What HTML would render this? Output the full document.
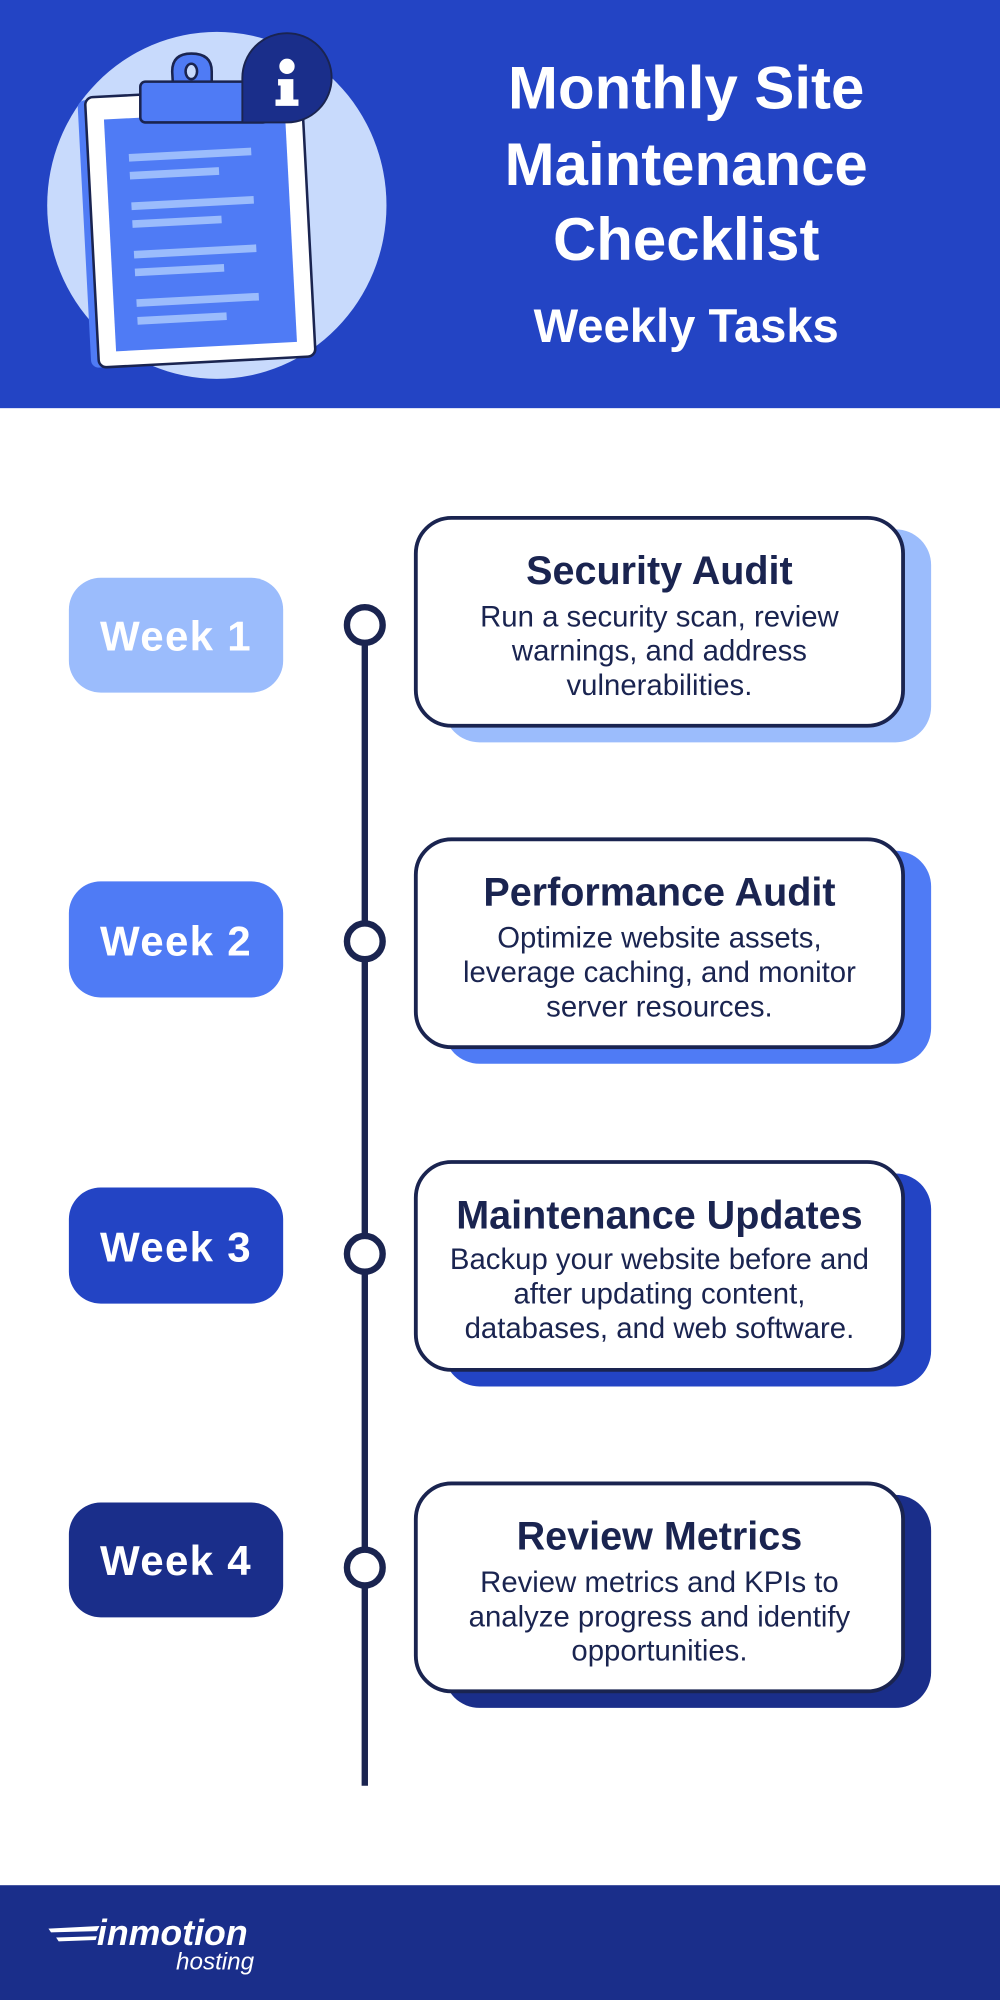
<!DOCTYPE html>
<html><head><meta charset="utf-8"><style>
html,body{margin:0;padding:0;background:#fff}
svg{display:block}
text{font-family:"Liberation Sans",sans-serif}
</style></head><body>
<svg width="1000" height="2000" viewBox="0 0 784 1568" xmlns="http://www.w3.org/2000/svg">
<rect x="0" y="0" width="784" height="320" fill="#2344c4"/>
<ellipse cx="170" cy="161" rx="133" ry="136" fill="#c8dafc"/>
<g transform="rotate(-3 155 178)">
<rect x="66" y="74" width="170" height="210" rx="6" fill="#4f7bf5"/>
<rect x="72" y="72" width="170" height="212" rx="6" fill="#fff" stroke="#1a2450" stroke-width="2"/>
<rect x="86" y="90" width="142" height="182" fill="#4f7bf5"/>
<g fill="#9bbcfc">
<rect x="104" y="118" width="96" height="6"/><rect x="104" y="132" width="70" height="6"/>
<rect x="104" y="156" width="96" height="6"/><rect x="104" y="170" width="70" height="6"/>
<rect x="104" y="194" width="96" height="6"/><rect x="104" y="208" width="70" height="6"/>
<rect x="104" y="232" width="96" height="6"/><rect x="104" y="246" width="70" height="6"/>
</g>
</g>
<path d="M136 74 L135 56 Q135 42 150 42 Q166 42 166 56 L166 74 Z" fill="#4f7bf5" stroke="#1a2450" stroke-width="2"/>
<ellipse cx="150" cy="56" rx="4.5" ry="6" fill="#c8dafc" stroke="#1a2450" stroke-width="2"/>
<rect x="110" y="64" width="100" height="32" rx="4" fill="#4f7bf5" stroke="#1a2450" stroke-width="2"/>
<path d="M190 96 V61 A35 35 0 1 1 225 96 Z" fill="#1a2e8a" stroke="#1a2450" stroke-width="1.5"/>
<circle cx="225" cy="52" r="6" fill="#fff"/>
<path d="M218 62 H230 V78 H234 V83 H216 V78 H220 V67 H218 Z" fill="#fff"/>
<g fill="#fff" font-weight="bold" text-anchor="middle" font-size="47">
<text x="538" y="85">Monthly Site</text>
<text x="538" y="145">Maintenance</text>
<text x="538" y="204">Checklist</text>
<text x="538" y="268" font-size="37">Weekly Tasks</text>
</g>
<line x1="286" y1="490" x2="286" y2="1400" stroke="#1a2450" stroke-width="5"/>
<g fill="#fff" stroke="#1a2450" stroke-width="5">
<circle cx="286" cy="490" r="14"/><circle cx="286" cy="738" r="14"/>
<circle cx="286" cy="983" r="14"/><circle cx="286" cy="1229" r="14"/>
</g>
<g font-weight="bold" font-size="33" fill="#fff" text-anchor="middle" letter-spacing="1">
<rect x="54" y="453" width="168" height="90" rx="25" fill="#9bbcfc"/><text x="138" y="510">Week 1</text>
<rect x="54" y="691" width="168" height="91" rx="25" fill="#4f7bf5"/><text x="138" y="749">Week 2</text>
<rect x="54" y="931" width="168" height="91" rx="25" fill="#2344c4"/><text x="138" y="989">Week 3</text>
<rect x="54" y="1178" width="168" height="90" rx="25" fill="#1a2e8a"/><text x="138" y="1235">Week 4</text>
</g>
<g>
<rect x="348" y="415" width="382" height="167" rx="28" fill="#9bbcfc"/>
<rect x="348" y="667" width="382" height="167" rx="28" fill="#4f7bf5"/>
<rect x="348" y="920" width="382" height="167" rx="28" fill="#2344c4"/>
<rect x="348" y="1172" width="382" height="167" rx="28" fill="#1a2e8a"/>
<g fill="#fff" stroke="#1a2450" stroke-width="3">
<rect x="326" y="406" width="382" height="163" rx="28"/>
<rect x="326" y="658" width="382" height="163" rx="28"/>
<rect x="326" y="911" width="382" height="163" rx="28"/>
<rect x="326" y="1163" width="382" height="163" rx="28"/>
</g>
</g>
<g fill="#1a2450" text-anchor="middle">
<g font-size="31" font-weight="bold">
<text x="517" y="458">Security Audit</text>
<text x="517" y="710">Performance Audit</text>
<text x="517" y="963">Maintenance Updates</text>
<text x="517" y="1215">Review Metrics</text>
</g>
<g font-size="23">
<text x="517" y="491">Run a security scan, review</text>
<text x="517" y="518">warnings, and address</text>
<text x="517" y="545">vulnerabilities.</text>
<text x="517" y="743">Optimize website assets,</text>
<text x="517" y="770">leverage caching, and monitor</text>
<text x="517" y="797">server resources.</text>
<text x="517" y="995">Backup your website before and</text>
<text x="517" y="1022">after updating content,</text>
<text x="517" y="1049">databases, and web software.</text>
<text x="517" y="1248">Review metrics and KPIs to</text>
<text x="517" y="1275">analyze progress and identify</text>
<text x="517" y="1302">opportunities.</text>
</g>
</g>
<rect x="0" y="1478" width="784" height="90" fill="#1a2e8a"/>
<g fill="#fff">
<path d="M38 1512 L78 1510 L76 1514 L40 1515 Z"/>
<path d="M44 1519 L76 1518 L75 1521 L46 1522 Z"/>
<text x="76" y="1525" font-size="28" font-weight="bold" font-style="italic">inmotion</text>
<text x="138" y="1544" font-size="19" font-style="italic">hosting</text>
</g>
</svg>
</body></html>
